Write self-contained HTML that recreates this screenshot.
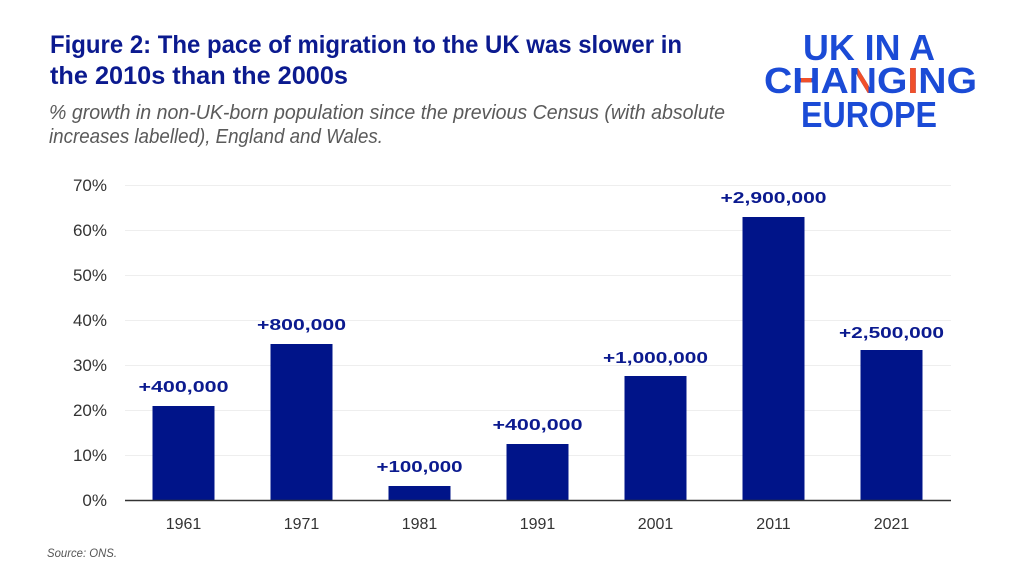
<!DOCTYPE html>
<html>
<head>
<meta charset="utf-8">
<style>
  html,body{margin:0;padding:0;background:#fff;}
  svg{display:block;}
  text{font-family:"Liberation Sans", sans-serif;}
</style>
</head>
<body>
<svg width="1024" height="576" viewBox="0 0 1024 576" xmlns="http://www.w3.org/2000/svg">
  <defs>
    <clipPath id="redclip">
      <rect x="801" y="60" width="10.5" height="40"/>
      <rect x="857.5" y="60" width="11" height="40"/>
      <rect x="906" y="60" width="13" height="40"/>
    </clipPath>
  </defs>
  <rect width="1024" height="576" fill="#ffffff"/>

  <!-- Title -->
  <text x="50" y="53" font-size="25" font-weight="bold" fill="#0b1a8f" textLength="632" lengthAdjust="spacingAndGlyphs">Figure 2: The pace of migration to the UK was slower in</text>
  <text x="50" y="84" font-size="25" font-weight="bold" fill="#0b1a8f" textLength="298" lengthAdjust="spacingAndGlyphs">the 2010s than the 2000s</text>

  <!-- Subtitle -->
  <text x="49" y="119" font-size="20" font-style="italic" fill="#5a5a5a" textLength="676" lengthAdjust="spacingAndGlyphs">% growth in non-UK-born population since the previous Census (with absolute</text>
  <text x="49" y="143" font-size="20" font-style="italic" fill="#5a5a5a" textLength="334" lengthAdjust="spacingAndGlyphs">increases labelled), England and Wales.</text>

  <!-- Logo -->
  <g font-weight="bold" font-size="36" fill="#1b4bd6">
    <text x="803" y="60" textLength="132" lengthAdjust="spacingAndGlyphs">UK IN A</text>
    <text x="764" y="93" textLength="213" lengthAdjust="spacingAndGlyphs">CHANGING</text>
    <text x="801" y="127" textLength="136" lengthAdjust="spacingAndGlyphs">EUROPE</text>
  </g>
  <text x="764" y="93" font-weight="bold" font-size="36" fill="#f0502a" textLength="213" lengthAdjust="spacingAndGlyphs" clip-path="url(#redclip)">CHANGING</text>

  <!-- Gridlines -->
  <g stroke="#eeeeee" stroke-width="1">
    <line x1="125" y1="185.5" x2="951" y2="185.5"/>
    <line x1="125" y1="230.5" x2="951" y2="230.5"/>
    <line x1="125" y1="275.5" x2="951" y2="275.5"/>
    <line x1="125" y1="320.5" x2="951" y2="320.5"/>
    <line x1="125" y1="365.5" x2="951" y2="365.5"/>
    <line x1="125" y1="410.5" x2="951" y2="410.5"/>
    <line x1="125" y1="455.5" x2="951" y2="455.5"/>
  </g>

  <!-- Y tick labels -->
  <g font-size="17" fill="#333333" text-anchor="end">
    <text x="107" y="191">70%</text>
    <text x="107" y="236">60%</text>
    <text x="107" y="281">50%</text>
    <text x="107" y="326">40%</text>
    <text x="107" y="371">30%</text>
    <text x="107" y="416">20%</text>
    <text x="107" y="461">10%</text>
    <text x="107" y="506">0%</text>
  </g>

  <!-- Bars -->
  <g fill="#001489">
    <rect x="152.5" y="406" width="62" height="94"/>
    <rect x="270.5" y="344" width="62" height="156"/>
    <rect x="388.5" y="486" width="62" height="14"/>
    <rect x="506.5" y="444" width="62" height="56"/>
    <rect x="624.5" y="376" width="62" height="124"/>
    <rect x="742.5" y="217" width="62" height="283"/>
    <rect x="860.5" y="350" width="62" height="150"/>
  </g>

  <!-- Axis -->
  <line x1="125" y1="500.5" x2="951" y2="500.5" stroke="#333333" stroke-width="1.5"/>

  <!-- Value labels -->
  <g font-size="16" font-weight="bold" fill="#0b1a8f" text-anchor="middle">
    <text x="183.5" y="392" textLength="90" lengthAdjust="spacingAndGlyphs">+400,000</text>
    <text x="301.5" y="330" textLength="89" lengthAdjust="spacingAndGlyphs">+800,000</text>
    <text x="419.5" y="472" textLength="86" lengthAdjust="spacingAndGlyphs">+100,000</text>
    <text x="537.5" y="430" textLength="90" lengthAdjust="spacingAndGlyphs">+400,000</text>
    <text x="655.5" y="363" textLength="105" lengthAdjust="spacingAndGlyphs">+1,000,000</text>
    <text x="773.5" y="203" textLength="106" lengthAdjust="spacingAndGlyphs">+2,900,000</text>
    <text x="891.5" y="338" textLength="105" lengthAdjust="spacingAndGlyphs">+2,500,000</text>
  </g>

  <!-- X labels -->
  <g font-size="16" fill="#333333" text-anchor="middle">
    <text x="183.5" y="529">1961</text>
    <text x="301.5" y="529">1971</text>
    <text x="419.5" y="529">1981</text>
    <text x="537.5" y="529">1991</text>
    <text x="655.5" y="529">2001</text>
    <text x="773.5" y="529">2011</text>
    <text x="891.5" y="529">2021</text>
  </g>

  <!-- Source -->
  <text x="47" y="557" font-size="12" font-style="italic" fill="#555555" textLength="70" lengthAdjust="spacingAndGlyphs">Source: ONS.</text>
</svg>
</body>
</html>
